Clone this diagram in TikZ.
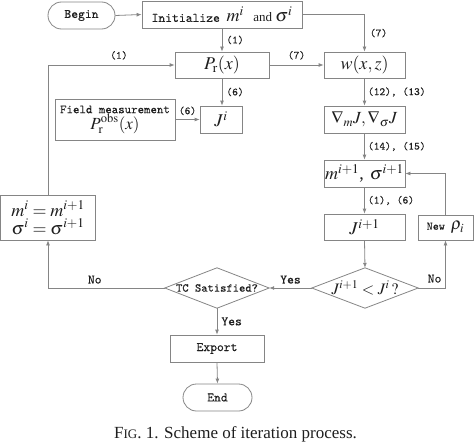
\documentclass[tikz,border=0pt]{standalone}
\usepackage{mathptmx}
\usepackage{fontspec}
\setmainfont{Liberation Serif}
\setmonofont[FakeBold=0.2]{lmmono10-regular.otf}
\usetikzlibrary{arrows.meta}
\definecolor{lc}{HTML}{858585}
\definecolor{tc}{HTML}{1E1E1E}
\tikzset{
  box/.style={draw=lc, fill=white, line width=0.8pt, inner sep=0pt, text=tc, align=center},
  stad/.style={box, rounded corners=13.5pt, minimum width=#1, minimum height=27pt},
  dnode/.style={inner sep=0pt, text=tc, minimum width=106pt, minimum height=40pt},
  conn/.style={draw=lc, line width=0.8pt},
  arr/.style={conn, -{Latex[length=5pt,width=4pt]}},
  lbl/.style={text=tc, font=\fontsize{11}{12}\ttfamily\selectfont, inner sep=0pt},
  lblb/.style={text=tc, font=\fontsize{13}{14}\ttfamily\selectfont, inner sep=0pt},
  mt/.style={font=\fontsize{13}{15}\ttfamily\selectfont},
  mm/.style={font=\fontsize{18}{21}\selectfont},
}
\begin{document}
\begin{tikzpicture}[x=1pt,y=-1pt]
\useasboundingbox (0,0) rectangle (474,444);
% nodes
\node[stad=67pt, mt] (begin) at (81.5,15.5) {Begin};
\node[box, minimum width=160pt, minimum height=27pt] (init) at (222,14.5)
  {\fontsize{13}{15}\ttfamily\selectfont Initialize \fontsize{18}{20}\selectfont$m^i$ \fontsize{13}{14}\rmfamily\selectfont and \fontsize{18}{20}\selectfont$\sigma^i$};
\node[box, mm, minimum width=94pt, minimum height=26pt] (pr) at (222,65) {$P_{\mathrm{r}}(x)$};
\node[box, mm, minimum width=81pt, minimum height=26pt] (w) at (364.5,65) {$w(x,z)$};
\node[box, minimum width=120pt, minimum height=41pt] (field) at (115,119.5)
  {{\fontsize{12.3}{14}\ttfamily\selectfont Field measurement}\\[0pt]{\fontsize{17}{19}\selectfont$P_{\mathrm{r}}^{\mathrm{obs}}(x)$}};
\node[box, mm, minimum width=42pt, minimum height=27pt] (ji) at (221,119.5) {$J^i$};
\node[box, minimum width=81pt, minimum height=27pt, font=\fontsize{17}{19}\selectfont] (grad) at (364.5,119.5) {$\nabla_{m}J,\nabla_{\sigma}J$};
\node[box, mm, minimum width=81pt, minimum height=27pt] (mnew) at (364.5,173.5) {$m^{i+1}$,\,\,$\sigma^{i+1}$};
\node[box, minimum width=55pt, minimum height=25pt] (rho) at (445.5,227.5)
  {\fontsize{11.5}{13}\ttfamily\selectfont New \fontsize{17}{19}\selectfont$\rho_i$};
\node[box, mm, minimum width=81pt, minimum height=26pt] (jnew) at (364.5,227) {$J^{i+1}$};
\node[dnode, font=\fontsize{16}{19}\selectfont] (cmp) at (365,288) {$J^{i+1}<J^i\,?$};
\draw[conn] (cmp.north) -- (cmp.east) -- (cmp.south) -- (cmp.west) -- cycle;
\node[dnode, font=\fontsize{12}{14}\ttfamily\selectfont, minimum width=104pt] (tc) at (217,288) {TC Satisfied?};
\draw[conn] (tc.north) -- (tc.east) -- (tc.south) -- (tc.west) -- cycle;
\node[box, minimum width=94.5pt, minimum height=45pt, font=\fontsize{18}{20}\selectfont] (mi) at (48,217.5)
  {$m^i=m^{i+1}$\\[-2pt]$\sigma^i=\sigma^{i+1}$};
\node[box, mt, minimum width=94pt, minimum height=27pt] (export) at (217,348.5) {Export};
\node[stad=69pt, mt] (end) at (217.5,397.5) {End};
\node[text=tc, inner sep=0pt, font=\fontsize{17}{19}\selectfont] (cap) at (235.5,434.5)
  {F{\fontsize{13}{14}\selectfont IG}. 1. Scheme of iteration process.};
% connectors
\draw[arr] (begin.east) -- (init.west);
\draw[arr] (init.south) -- (pr.north) node[lbl, pos=0.5, right=4pt] (l1) {(1)};
\draw[arr] (init.east) -| (w.north) node[lbl, pos=0.75, right=5pt] (l7a) {(7)};
\draw[arr] (pr.east) -- (w.west) node[lbl, midway, above=5pt] (l7b) {(7)};
\draw[arr] (pr.south) -- (pr.south |- ji.north) node[lbl, midway, right=4pt] (l6a) {(6)};
\draw[arr] (field.east) -- (ji.west) node[lbl, midway, above=4pt] (l6b) {(6)};
\draw[arr] (w.south) -- (grad.north) node[lbl, midway, right=3pt] (l1213) {(12), (13)};
\draw[arr] (grad.south) -- (mnew.north) node[lbl, midway, right=3pt] (l1415) {(14), (15)};
\draw[arr] (mnew.south) -- (jnew.north) node[lbl, midway, right=3pt] (l16) {(1), (6)};
\draw[arr] (jnew.south) -- (cmp.north);
\draw[arr] (cmp.east) -| (rho.south) node[lblb, pos=0.3, above=5pt] (lno1) {No};
\draw[arr] (rho.north) |- (mnew.east);
\draw[arr] (cmp.west) -- (tc.east) node[lblb, midway, above=4pt] (lyes1) {Yes};
\draw[arr] (tc.west) -| (mi.south) node[lblb, pos=0.3, above=4pt] (lno2) {No};
\draw[arr] (mi.north) |- (pr.west) node[lbl, pos=0.78, above=5pt] (l1b) {(1)};
\draw[arr] (tc.south) -- (export.north) node[lblb, midway, right=4pt] (lyes2) {Yes};
\draw[arr] (export.south) -- (end.north);
\end{tikzpicture}
\end{document}
